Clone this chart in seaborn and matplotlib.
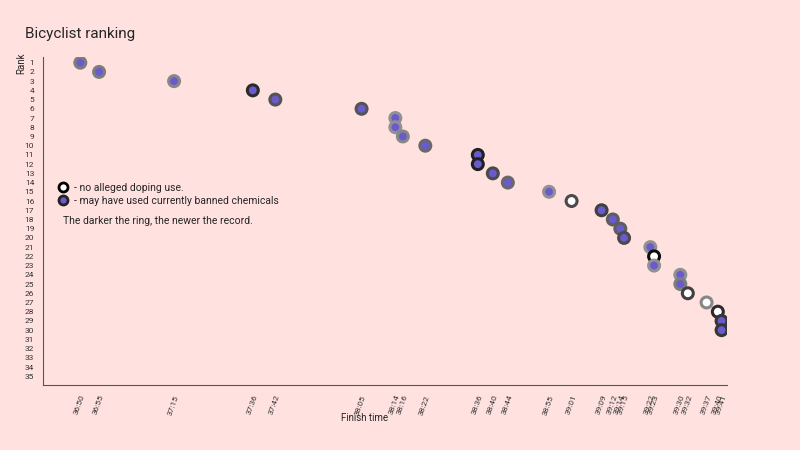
import matplotlib
matplotlib.use("Agg")
import matplotlib.pyplot as plt
from matplotlib.lines import Line2D
import seaborn as sns
import pandas as pd

# finish times in seconds, ranks, doping flag, ring darkness (0 light .. 1 dark)
seconds = [2210, 2215, 2235, 2256, 2262, 2285, 2294, 2294, 2296, 2302,
           2316, 2316, 2320, 2324, 2335, 2341, 2349, 2352, 2354, 2355,
           2362, 2363, 2363, 2370, 2370, 2372, 2377, 2380, 2381, 2381]
ranks = list(range(1, 31))
doping = [1, 1, 1, 1, 1, 1, 1, 1, 1, 1,
          1, 1, 1, 1, 1, 0, 1, 1, 1, 1,
          1, 0, 1, 1, 1, 0, 0, 0, 1, 1]
darkness = [0.45, 0.45, 0.4, 0.85, 0.65, 0.65, 0.35, 0.35, 0.4, 0.55,
            0.9, 0.9, 0.7, 0.55, 0.35, 0.7, 0.75, 0.6, 0.6, 0.7,
            0.35, 1.0, 0.35, 0.35, 0.45, 0.75, 0.4, 0.85, 0.8, 0.8]

df = pd.DataFrame({"sec": seconds, "rank": ranks, "doping": doping, "dark": darkness})

def fmt(s):
    return "%d:%02d" % (s // 60, s % 60)

bg = "#ffe2e0"
sns.set_style("white")
plt.rcParams['font.family'] = ['Roboto', 'DejaVu Sans']

fig = plt.figure(figsize=(8, 4.5), dpi=100, facecolor=bg)
ax = fig.add_axes([0.054, 0.144, 0.855, 0.729])
ax.set_facecolor(bg)

ring = [str(round(0.85 - d * 0.8, 2)) for d in df["dark"]]
fills = ["#6a5acd" if d else "white" for d in df["doping"]]
sns.scatterplot(data=df, x="sec", y="rank", ax=ax, s=62, c=fills,
                edgecolor=ring, linewidth=2.2, legend=False, zorder=3)

ax.set_xlim(2200.1, 2382.5)
ax.set_ylim(35.97, 0.4)
ax.set_yticks(range(1, 36))
ax.set_yticklabels([str(i) for i in range(1, 36)], fontsize=6)
ax.set_xticks(sorted(set(seconds)))
ax.set_xticklabels([fmt(s) for s in sorted(set(seconds))], rotation=70,
                   fontsize=6, ha="right", rotation_mode="anchor")
ax.tick_params(axis="both", length=3, width=0.8, colors="#333333")
for sp in ["top", "right"]:
    ax.spines[sp].set_visible(False)
for sp in ["left", "bottom"]:
    ax.spines[sp].set_color("#555555")
ax.set_xlabel("Finish time", fontsize=7)
ax.set_ylabel("Rank", fontsize=7)
ax.xaxis.set_label_coords(0.47, -0.085)
ax.yaxis.set_label_coords(-0.025, 0.98)

handles = [
    Line2D([], [], marker="o", ls="", markersize=6.5, markerfacecolor="white",
           markeredgecolor="black", markeredgewidth=2.0, label="- no alleged doping use."),
    Line2D([], [], marker="o", ls="", markersize=6.5, markerfacecolor="#6a5acd",
           markeredgecolor="#222222", markeredgewidth=2.0,
           label="- may have used currently banned chemicals"),
]
ax.legend(handles=handles, loc="upper left", bbox_to_anchor=(0.0, 0.645),
          frameon=False, fontsize=7.5, handletextpad=0.1, labelspacing=0.3)
fig.text(0.079, 0.509, "The darker the ring, the newer the record.", fontsize=7.5,
         va="center")

fig.text(0.031, 0.915, "Bicyclist ranking", fontsize=11)
fig.savefig("out.png", dpi=100, facecolor=bg)
